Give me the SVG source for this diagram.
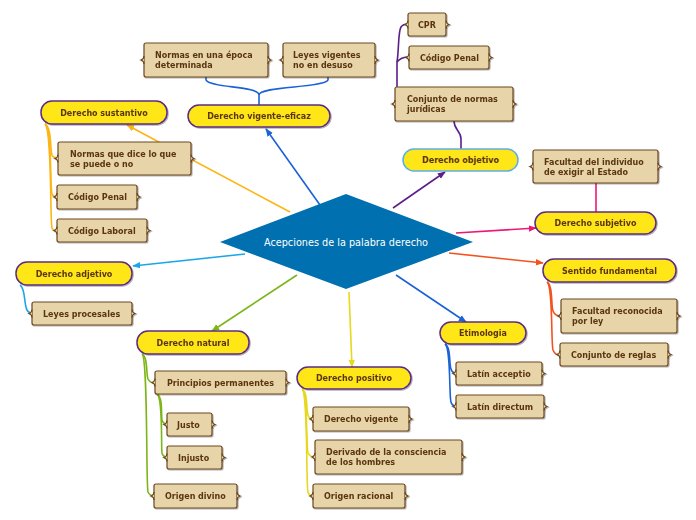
<svg xmlns="http://www.w3.org/2000/svg" xmlns:xlink="http://www.w3.org/1999/xlink" width="696" height="520" viewBox="0 0 696 520">
<defs>
<style>
.main{fill:#FFE619;stroke:#5B2C83;stroke-width:1.5}
.sub{fill:#E8D4A9;stroke:#6B4720;stroke-width:1.2}
.br{fill:#E8D4A9;stroke:#6B4720;stroke-width:1.2}
.tm{font-family:"DejaVu Sans",Verdana,sans-serif;font-weight:bold;font-size:8px;fill:#5A3510;text-anchor:middle}
.ts{font-family:"DejaVu Sans",Verdana,sans-serif;font-weight:bold;font-size:8px;fill:#5A3510}
.tc{font-family:"DejaVu Sans",Verdana,sans-serif;font-size:9.7px;fill:#FFFFFF;text-anchor:middle}
.ln{fill:none;stroke-width:1.6}
.blue{stroke:#1A62D6}.orange{stroke:#FDB515}.purple{stroke:#5C1F8A}.pink{stroke:#EE1874}
.red{stroke:#F4511E}.yellow{stroke:#E6D81C}.green{stroke:#7CB518}.cyan{stroke:#1BA6EA}
</style>
<filter id="sh" x="-10%" y="-20%" width="130%" height="150%"><feDropShadow dx="1" dy="1" stdDeviation="0.7" flood-color="#000" flood-opacity="0.3"/></filter>
<path id="bL" class="br" d="M0,-4 Q0,-1 -3,0 Q0,1 0,4"/>
<path id="bR" class="br" d="M0,-4 Q0,-1 3,0 Q0,1 0,4"/>
<marker id="mBlue" viewBox="0 0 10 10" refX="9" refY="5" markerWidth="8" markerHeight="8" orient="auto" markerUnits="userSpaceOnUse"><path d="M0,1 L10,5 L0,9 z" fill="#1A62D6"/></marker>
<marker id="mOrange" viewBox="0 0 10 10" refX="9" refY="5" markerWidth="8" markerHeight="8" orient="auto" markerUnits="userSpaceOnUse"><path d="M0,1 L10,5 L0,9 z" fill="#FDB515"/></marker>
<marker id="mPurple" viewBox="0 0 10 10" refX="9" refY="5" markerWidth="8" markerHeight="8" orient="auto" markerUnits="userSpaceOnUse"><path d="M0,1 L10,5 L0,9 z" fill="#5C1F8A"/></marker>
<marker id="mPink" viewBox="0 0 10 10" refX="9" refY="5" markerWidth="8" markerHeight="8" orient="auto" markerUnits="userSpaceOnUse"><path d="M0,1 L10,5 L0,9 z" fill="#EE1874"/></marker>
<marker id="mRed" viewBox="0 0 10 10" refX="9" refY="5" markerWidth="8" markerHeight="8" orient="auto" markerUnits="userSpaceOnUse"><path d="M0,1 L10,5 L0,9 z" fill="#F4511E"/></marker>
<marker id="mYellow" viewBox="0 0 10 10" refX="9" refY="5" markerWidth="8" markerHeight="8" orient="auto" markerUnits="userSpaceOnUse"><path d="M0,1 L10,5 L0,9 z" fill="#E6D81C"/></marker>
<marker id="mGreen" viewBox="0 0 10 10" refX="9" refY="5" markerWidth="8" markerHeight="8" orient="auto" markerUnits="userSpaceOnUse"><path d="M0,1 L10,5 L0,9 z" fill="#7CB518"/></marker>
<marker id="mCyan" viewBox="0 0 10 10" refX="9" refY="5" markerWidth="8" markerHeight="8" orient="auto" markerUnits="userSpaceOnUse"><path d="M0,1 L10,5 L0,9 z" fill="#1BA6EA"/></marker>
</defs>
<rect width="696" height="520" fill="#FFFFFF"/>

<g id="connectors">
<!-- central to main topics -->
<line class="ln blue" x1="320" y1="205" x2="266" y2="129" marker-end="url(#mBlue)"/>
<line class="ln orange" x1="290" y1="212" x2="127" y2="125" marker-end="url(#mOrange)"/>
<line class="ln purple" x1="393" y1="208" x2="445" y2="172" marker-end="url(#mPurple)"/>
<line class="ln pink" x1="456" y1="233" x2="536" y2="228" marker-end="url(#mPink)"/>
<line class="ln red" x1="449" y1="253" x2="543" y2="263" marker-end="url(#mRed)"/>
<line class="ln blue" x1="396" y1="275" x2="466" y2="322" marker-end="url(#mBlue)"/>
<line class="ln yellow" x1="349" y1="292" x2="352" y2="367" marker-end="url(#mYellow)"/>
<line class="ln green" x1="297" y1="275" x2="212" y2="331" marker-end="url(#mGreen)"/>
<line class="ln cyan" x1="245" y1="254" x2="133" y2="266" marker-end="url(#mCyan)"/>
<!-- Derecho vigente-eficaz children -->
<path class="ln blue" d="M259,105 V95 C259,86 210,88 206,80 V77"/>
<path class="ln blue" d="M259,95 C259,86 324,88 328,80 V77"/>
<!-- Derecho objetivo child -->
<path class="ln purple" d="M461,149 V139 C461,131 454,130 454,121"/>
<!-- Conjunto de normas children -->
<path class="ln purple" d="M397,87 V62 C400,58 403,57 409,57"/>
<path class="ln purple" d="M397,62 C399,50 398,32 401,27 Q403,24 408,24"/>
<!-- Derecho subjetivo child -->
<path class="ln pink" d="M596,212 V183"/>
<!-- Derecho sustantivo children -->
<path class="ln orange" d="M45,124 C52,128 50,150 52,155 Q53,158 58,158"/>
<path class="ln orange" d="M45,124 C52,128 50,189 52,194 Q53,197 57,197"/>
<path class="ln orange" d="M45,124 C52,128 50,223 52,228 Q53,231 57,231"/>
<!-- Derecho adjetivo child -->
<path class="ln cyan" d="M20,285 C25,288 24,300 26,307 Q27,313 32,313"/>
<!-- Sentido fundamental children -->
<path class="ln red" d="M547,282 C553,285 551,306 553,311 Q555,316 561,316"/>
<path class="ln red" d="M547,282 C553,285 551,344 553,350 Q555,355 560,355"/>
<!-- Etimologia children -->
<path class="ln blue" d="M445,344 C451,347 449,364 451,369 Q452,373 456,373"/>
<path class="ln blue" d="M445,344 C451,347 449,397 451,402 Q452,406 456,406"/>
<!-- Derecho natural children -->
<path class="ln green" d="M142,354 C148,357 146,374 148,379 Q150,383 155,383"/>
<path class="ln green" d="M142,354 C148,357 146,487 148,492 Q150,496 154,496"/>
<path class="ln green" d="M157,394 C163,397 161,415 162,420 Q163,424 167,424"/>
<path class="ln green" d="M157,394 C163,397 161,448 162,453 Q163,457 167,457"/>
<!-- Derecho positivo children -->
<path class="ln yellow" d="M302,389 C308,392 306,410 308,415 Q309,419 313,419"/>
<path class="ln yellow" d="M302,389 C308,392 306,448 308,453 Q310,457 315,457"/>
<path class="ln yellow" d="M302,389 C308,392 306,487 308,492 Q309,496 313,496"/>
</g>

<g id="central">
<polygon points="220,242 346,194 473,242 346,289" fill="#0070B0"/>
<text class="tc" x="346" y="246">Acepciones de la palabra derecho</text>
</g>

<g id="derecho-sustantivo" filter="url(#sh)"><rect class="main" x="41" y="101" width="126" height="23" rx="11"/><text class="tm" x="104" y="115.5">Derecho sustantivo</text></g>
<g id="derecho-vigente-eficaz" filter="url(#sh)"><rect class="main" x="188" y="105" width="142" height="22" rx="11"/><text class="tm" x="259" y="119">Derecho vigente-eficaz</text></g>
<g id="derecho-objetivo"><rect class="main" style="stroke:#5BB0E6" x="403" y="149" width="115" height="22" rx="11"/><text class="tm" x="460.5" y="163">Derecho objetivo</text></g>
<g id="derecho-subjetivo" filter="url(#sh)"><rect class="main" x="535" y="212" width="121" height="22" rx="11"/><text class="tm" x="595.5" y="226">Derecho subjetivo</text></g>
<g id="derecho-adjetivo" filter="url(#sh)"><rect class="main" x="16" y="262" width="116" height="23" rx="11"/><text class="tm" x="74" y="276.5">Derecho adjetivo</text></g>
<g id="sentido-fundamental" filter="url(#sh)"><rect class="main" x="543" y="259" width="133" height="23" rx="11"/><text class="tm" x="609.5" y="273.5">Sentido fundamental</text></g>
<g id="etimologia" filter="url(#sh)"><rect class="main" x="440" y="322" width="86" height="22" rx="11"/><text class="tm" x="483" y="336">Etimologia</text></g>
<g id="derecho-natural" filter="url(#sh)"><rect class="main" x="137" y="331" width="112" height="23" rx="11"/><text class="tm" x="193" y="345.5">Derecho natural</text></g>
<g id="derecho-positivo" filter="url(#sh)"><rect class="main" x="297" y="367" width="114" height="22" rx="11"/><text class="tm" x="354" y="381">Derecho positivo</text></g>

<g id="normas-epoca" filter="url(#sh)"><rect class="sub" x="144" y="43" width="124" height="34" rx="2"/><use href="#bL" x="144" y="60"/><use href="#bR" x="268" y="60"/><text class="ts" x="155" y="58">Normas en una época</text><text class="ts" x="155" y="68">determinada</text></g>
<g id="leyes-vigentes" filter="url(#sh)"><rect class="sub" x="283" y="43" width="92" height="34" rx="2"/><use href="#bL" x="283" y="60"/><use href="#bR" x="375" y="60"/><text class="ts" x="293" y="58">Leyes vigentes</text><text class="ts" x="293" y="68">no en desuso</text></g>
<g id="cpr" filter="url(#sh)"><rect class="sub" x="408" y="13" width="38" height="23" rx="2"/><use href="#bL" x="408" y="24.5"/><use href="#bR" x="446" y="24.5"/><text class="ts" x="418" y="27.5">CPR</text></g>
<g id="codigo-penal-1" filter="url(#sh)"><rect class="sub" x="409" y="46" width="80" height="23" rx="2"/><use href="#bL" x="409" y="57.5"/><use href="#bR" x="489" y="57.5"/><text class="ts" x="420" y="60.5">Código Penal</text></g>
<g id="conjunto-normas" filter="url(#sh)"><rect class="sub" x="395" y="87" width="118" height="34" rx="2"/><use href="#bL" x="395" y="104"/><use href="#bR" x="513" y="104"/><text class="ts" x="407" y="102">Conjunto de normas</text><text class="ts" x="407" y="112">jurídicas</text></g>
<g id="facultad-individuo" filter="url(#sh)"><rect class="sub" x="533" y="150" width="125" height="33" rx="2"/><use href="#bL" x="533" y="166.5"/><use href="#bR" x="658" y="166.5"/><text class="ts" x="544" y="165">Facultad del individuo</text><text class="ts" x="544" y="175">de exigir al Estado</text></g>
<g id="normas-que-dice" filter="url(#sh)"><rect class="sub" x="58" y="142" width="133" height="33" rx="2"/><use href="#bL" x="58" y="158.5"/><use href="#bR" x="191" y="158.5"/><text class="ts" x="70" y="157">Normas que dice lo que</text><text class="ts" x="70" y="167">se puede o no</text></g>
<g id="codigo-penal-2" filter="url(#sh)"><rect class="sub" x="57" y="185" width="80" height="24" rx="2"/><use href="#bL" x="57" y="197"/><use href="#bR" x="137" y="197"/><text class="ts" x="68" y="200">Código Penal</text></g>
<g id="codigo-laboral" filter="url(#sh)"><rect class="sub" x="57" y="219" width="90" height="23" rx="2"/><use href="#bL" x="57" y="230.5"/><use href="#bR" x="147" y="230.5"/><text class="ts" x="68" y="233.5">Código Laboral</text></g>
<g id="leyes-procesales" filter="url(#sh)"><rect class="sub" x="32" y="302" width="100" height="23" rx="2"/><use href="#bL" x="32" y="313.5"/><use href="#bR" x="132" y="313.5"/><text class="ts" x="43" y="316.5">Leyes procesales</text></g>
<g id="facultad-reconocida" filter="url(#sh)"><rect class="sub" x="561" y="299" width="116" height="34" rx="2"/><use href="#bL" x="561" y="316"/><use href="#bR" x="677" y="316"/><text class="ts" x="572" y="314">Facultad reconocida</text><text class="ts" x="572" y="324">por ley</text></g>
<g id="conjunto-reglas" filter="url(#sh)"><rect class="sub" x="560" y="343" width="108" height="23" rx="2"/><use href="#bL" x="560" y="354.5"/><use href="#bR" x="668" y="354.5"/><text class="ts" x="571" y="357.5">Conjunto de reglas</text></g>
<g id="latin-acceptio" filter="url(#sh)"><rect class="sub" x="456" y="362" width="86" height="23" rx="2"/><use href="#bL" x="456" y="373.5"/><use href="#bR" x="542" y="373.5"/><text class="ts" x="467" y="376.5">Latín acceptio</text></g>
<g id="latin-directum" filter="url(#sh)"><rect class="sub" x="456" y="395" width="88" height="23" rx="2"/><use href="#bL" x="456" y="406.5"/><use href="#bR" x="544" y="406.5"/><text class="ts" x="467" y="409.5">Latín directum</text></g>
<g id="principios-permanentes" filter="url(#sh)"><rect class="sub" x="155" y="371" width="131" height="23" rx="2"/><use href="#bL" x="155" y="382.5"/><use href="#bR" x="286" y="382.5"/><text class="ts" x="167" y="385.5">Principios permanentes</text></g>
<g id="justo" filter="url(#sh)"><rect class="sub" x="167" y="413" width="45" height="23" rx="2"/><use href="#bL" x="167" y="424.5"/><use href="#bR" x="212" y="424.5"/><text class="ts" x="177" y="427.5">Justo</text></g>
<g id="injusto" filter="url(#sh)"><rect class="sub" x="167" y="446" width="55" height="23" rx="2"/><use href="#bL" x="167" y="457.5"/><use href="#bR" x="222" y="457.5"/><text class="ts" x="178" y="460.5">Injusto</text></g>
<g id="origen-divino" filter="url(#sh)"><rect class="sub" x="154" y="484" width="83" height="24" rx="2"/><use href="#bL" x="154" y="496"/><use href="#bR" x="237" y="496"/><text class="ts" x="165" y="499">Origen divino</text></g>
<g id="derecho-vigente" filter="url(#sh)"><rect class="sub" x="313" y="407" width="96" height="24" rx="2"/><use href="#bL" x="313" y="419"/><use href="#bR" x="409" y="419"/><text class="ts" x="324" y="422">Derecho vigente</text></g>
<g id="derivado-consciencia" filter="url(#sh)"><rect class="sub" x="315" y="440" width="147" height="34" rx="2"/><use href="#bL" x="315" y="457"/><use href="#bR" x="462" y="457"/><text class="ts" x="326" y="455">Derivado de la consciencia</text><text class="ts" x="326" y="465">de los hombres</text></g>
<g id="origen-racional" filter="url(#sh)"><rect class="sub" x="313" y="484" width="92" height="24" rx="2"/><use href="#bL" x="313" y="496"/><use href="#bR" x="405" y="496"/><text class="ts" x="324" y="499">Origen racional</text></g>
</svg>
